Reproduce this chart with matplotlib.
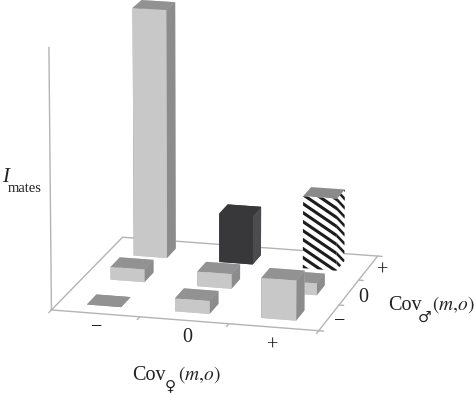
import numpy as np
import matplotlib
matplotlib.use("Agg")
import matplotlib.pyplot as plt
from mpl_toolkits.mplot3d.art3d import Poly3DCollection

plt.rcParams["mathtext.fontset"] = "stix"

female_cov = ["\u2212", "0", "+"]
male_cov = ["\u2212", "0", "+"]
# rows: male cov (-,0,+); columns: female cov (-,0,+)
imates = [[0, 13, 40],
          [13, 15, 12],
          [254, 50, 74]]
zmax = 260

W = 898
fig = plt.figure(figsize=(4.74, 3.93), dpi=100)
ax = fig.add_axes([(217.5 - .5135 * W) / 474, (238.5 - .5135 * W) / 393, W / 474, W / 393],
                  projection="3d", computed_zorder=False)
ax.set_axis_off()
ax.patch.set_alpha(0)
ax.view_init(elev=15.5, azim=-75.5)
ax.set_box_aspect((275, 265, 271), zoom=.5)
ax.set_xlim(0, 3, view_margin=0)
ax.set_ylim(0, 3, view_margin=0)
ax.set_zlim(0, zmax, view_margin=0)
ax.set_proj_type("persp", focal_length=1)

line = dict(color="#b4b4b4", lw=1.0, zorder=1)
ax.plot([0, 3, 3, 0, 0], [0, 0, 3, 3, 0], [0, 0, 0, 0, 0], **line)
ax.plot([0, 0], [0, 0], [0, zmax], **line)
for t in (0, 1, 2, 3):
    ax.plot([t, t], [0, -.1], [0, 0], **line)
    ax.plot([3, 3.05], [t, t], [0, 0], **line)

bw, bd = .39, .40
x_off = [.32, .32, .29]
LIGHT, TOP, SIDE = "#c8c8c9", "#929293", "#8c8c8d"
z = 10
for j in (2, 1, 0):
    for i in range(3):
        h = imates[j][i]
        x0, y0 = i + x_off[i], j + (1 - bd) / 2
        front, top, side = LIGHT, TOP, SIDE
        if h == 0:
            front, side = TOP, TOP
        if (i, j) == (1, 2):
            front, top, side = "#38383a", "#38383a", "#4c4c4e"
        if (i, j) == (2, 2):
            front, side = "white", "white"
            top = "#8a8a8a"
        ax.bar3d(x0, y0, 0, bw, bd, h, color=[front, top, front, front, side, side],
                 shade=False, linewidth=0, zorder=z)
        z += 1
        if (i, j) == (2, 2):
            polys = []
            period, thick = 9.2, 3.8
            n = 24
            drop_front, drop_side = 21, 18
            for c in np.arange(-period * 2, h + period * 6, period):
                u = np.linspace(0, 1, n)
                lo = np.clip(c - drop_front * u, 0, h)
                hi = np.clip(c + thick - drop_front * u, 0, h)
                polys.append(np.r_[np.c_[x0 + bw * u, np.full(n, y0), lo],
                                   np.c_[(x0 + bw * u)[::-1], np.full(n, y0), hi[::-1]]])
                lo2 = np.clip(c - drop_front - drop_side * u, 0, h)
                hi2 = np.clip(c + thick - drop_front - drop_side * u, 0, h)
                polys.append(np.r_[np.c_[np.full(n, x0 + bw), y0 + bd * u, lo2],
                                   np.c_[np.full(n, x0 + bw), (y0 + bd * u)[::-1], hi2[::-1]]])
            ax.add_collection3d(Poly3DCollection(polys, facecolor="#1c1c1e", edgecolor="none",
                                                 zorder=z))
            z += 1


def label(x, y, s, size=14.5, **kw):
    kw.setdefault("family", "Liberation Serif")
    kw.setdefault("color", "#222222")
    kw.setdefault("ha", "center")
    kw.setdefault("va", "center")
    fig.text(x / 474, 1 - y / 393, s, fontsize=size, **kw)


for s, px, py in zip(female_cov, (97, 187, 273), (328, 337, 346)):
    label(px, py, s)
for s, px, py in zip(male_cov, (340, 363, 383), (322, 298, 271)):
    label(px, py, s)

label(2, 178, "I", size=15, style="italic", ha="left")
label(8, 188, "mates", size=10.5, ha="left")

label(132, 375, "Cov", ha="left")
label(170, 386, "\u2640", size=11, family="DejaVu Sans")
label(178, 375, "$(m{,}o)$", size=14, ha="left")

label(388, 305, "Cov", ha="left")
label(425, 317, "\u2642", size=11, family="DejaVu Sans")
label(432, 305, "$(m{,}o)$", size=14, ha="left")

fig.savefig("out.png", dpi=100)
